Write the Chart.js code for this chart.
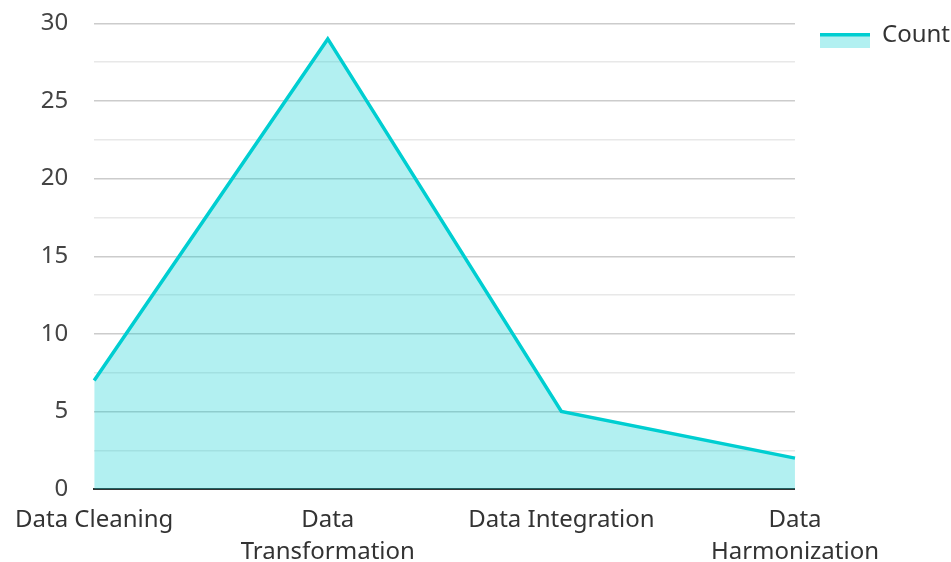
<!DOCTYPE html>
<html>
<head>
<meta charset="utf-8">
<script src="https://cdn.jsdelivr.net/npm/chart.js@4"></script>
<style>
  html, body { margin: 0; padding: 0; background: #fff; }
  #wrap { width: 951px; height: 562px; }
</style>
</head>
<body>
<div id="wrap"><canvas id="countChart"></canvas></div>
<script>
// ================= DATA =================
const categories = [
  "Data Cleaning",
  ["Data", "Transformation"],
  "Data Integration",
  ["Data", "Harmonization"]
];
const countValues = [7, 29, 5, 2];
const yTicks = [0, 5, 10, 15, 20, 25, 30];

const lineColor = "#00CED1";
const fillColor = "rgba(0, 206, 209, 0.3)";

// legend swatch: light fill with a thick line on top (drawn a bit below centre)
const swatch = document.createElement("canvas");
swatch.width = 50;
swatch.height = 26;
const sctx = swatch.getContext("2d");
sctx.fillStyle = fillColor;
sctx.fillRect(0, 11, 50, 15);
sctx.fillStyle = lineColor;
sctx.fillRect(0, 11, 50, 3.5);

// ================= CHART =================
const ctx = document.getElementById("countChart").getContext("2d");

new Chart(ctx, {
  type: "line",
  data: {
    labels: categories,
    datasets: [{
      label: "Count",
      data: countValues,
      borderColor: lineColor,
      backgroundColor: fillColor,
      borderWidth: 3.5,
      fill: "origin",
      tension: 0,
      pointRadius: 0,
      pointHoverRadius: 0
    }]
  },
  options: {
    responsive: true,
    maintainAspectRatio: false,
    animation: false,
    layout: { padding: { top: -2, left: 12, right: -9, bottom: -21 } },
    plugins: {
      legend: {
        position: "right",
        align: "start",
        labels: {
          usePointStyle: true,
          pointStyle: swatch,
          pointStyleWidth: 50,
          boxHeight: 15,
          padding: 25,
          color: "#333",
          font: { family: "'Noto Sans'", size: 24 }
        }
      },
      tooltip: { enabled: false }
    },
    scales: {
      x: {
        offset: false,
        grid: { display: false, drawTicks: false },
        border: { display: true, color: "#333", width: 2 },
        ticks: {
          maxRotation: 0,
          autoSkip: false,
          padding: 15,
          color: "#333",
          font: { family: "'Noto Sans'", size: 24, lineHeight: 1.33 }
        }
      },
      y: {
        min: 0,
        max: 30,
        border: { display: false },
        grid: {
          drawTicks: true,
          tickLength: 17,
          tickColor: "rgba(0, 0, 0, 0)",
          color: c => (yTicks.includes(c.tick.value) ? "#cccccc" : "#e8e8e8"),
          lineWidth: 1.5
        },
        ticks: {
          stepSize: 2.5,
          padding: 9,
          color: "#444",
          font: { family: "'Noto Sans'", size: 24 },
          callback: v => (yTicks.includes(v) ? v : "")
        }
      }
    }
  }
});
</script>
</body>
</html>
